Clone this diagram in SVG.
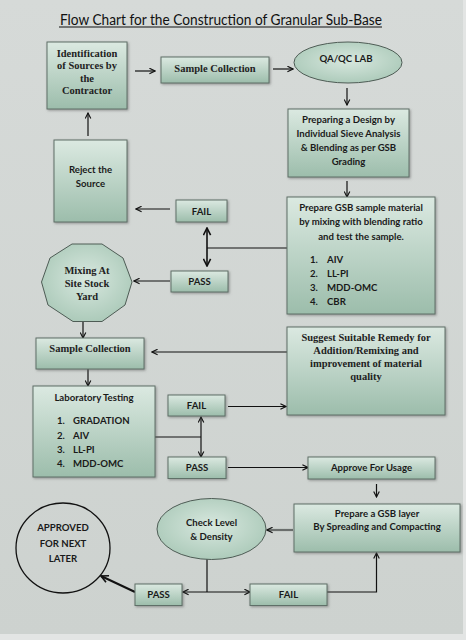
<svg xmlns="http://www.w3.org/2000/svg" width="466" height="640" viewBox="0 0 466 640">
<defs>
<linearGradient id="bg" x1="0" y1="0" x2="0" y2="1">
<stop offset="0" stop-color="#d6dad8"/>
<stop offset="1" stop-color="#cdd2cf"/>
</linearGradient>
<linearGradient id="fillg" x1="0" y1="0" x2="0" y2="1">
<stop offset="0" stop-color="#dbe9e1"/>
<stop offset="1" stop-color="#9cbdab"/>
</linearGradient>
<radialGradient id="fillr" cx="0.5" cy="0.45" r="0.6">
<stop offset="0" stop-color="#d8e8df"/>
<stop offset="1" stop-color="#a9c8b7"/>
</radialGradient>
<filter id="sh" x="-10%" y="-10%" width="130%" height="130%">
<feDropShadow dx="1.2" dy="1.2" stdDeviation="0.8" flood-color="#555" flood-opacity="0.5"/>
</filter>
<marker id="ah" viewBox="0 0 10 10" refX="9" refY="5" markerWidth="7" markerHeight="7" orient="auto-start-reverse" markerUnits="userSpaceOnUse">
<path d="M1,1 L9,5 L1,9" fill="none" stroke="#111" stroke-width="1.6"/>
</marker>
<marker id="ahb" viewBox="0 0 10 10" refX="9" refY="5" markerWidth="9" markerHeight="9" orient="auto-start-reverse" markerUnits="userSpaceOnUse">
<path d="M1,1 L9,5 L1,9" fill="none" stroke="#111" stroke-width="1.8"/>
</marker>
</defs>
<style>
.box{fill:url(#fillg);stroke:#5f6f67;stroke-width:1;filter:url(#sh)}
.ell{fill:url(#fillr);stroke:#4e5c55;stroke-width:1}
.serif{font-family:"Liberation Serif","Times New Roman",serif;font-weight:bold;font-size:10.5px;fill:#222;text-anchor:middle}
.sans{font-family:Lato,"Liberation Sans",sans-serif;font-weight:bold;font-size:9.6px;fill:#1a1a1a;text-anchor:middle}
.lst{font-family:Lato,"Liberation Sans",sans-serif;font-weight:bold;font-size:9.6px;fill:#1a1a1a}
.ln{fill:none;stroke:#111;stroke-width:1.2}
.arr{fill:none;stroke:#111;stroke-width:1.2;marker-end:url(#ah)}
</style>
<rect x="0" y="0" width="466" height="640" fill="#e3e5e4"/>
<rect x="0" y="0" width="463" height="634" fill="url(#bg)"/>

<g id="title">
<text x="221" y="24.5" font-family="Lato,'Liberation Sans',sans-serif" font-size="14.5" fill="#111" text-anchor="middle" textLength="322" lengthAdjust="spacingAndGlyphs">Flow Chart for the Construction of Granular Sub-Base</text>
<line x1="59" y1="27" x2="382" y2="27" stroke="#111" stroke-width="1"/>
</g>

<g id="connectors">
<line class="arr" x1="135" y1="71" x2="155" y2="71"/>
<line class="arr" x1="273" y1="69" x2="293" y2="69"/>
<line class="arr" x1="347" y1="88" x2="347" y2="105"/>
<line class="arr" x1="347" y1="181" x2="347" y2="197"/>
<line class="arr" x1="88" y1="136" x2="88" y2="113"/>
<line class="arr" x1="170" y1="209" x2="136" y2="209"/>
<line class="ln" x1="287" y1="248" x2="207" y2="248"/>
<line x1="207" y1="228" x2="207" y2="266" fill="none" stroke="#111" stroke-width="1.6" marker-start="url(#ahb)" marker-end="url(#ahb)"/>
<line class="arr" x1="170" y1="281" x2="134" y2="281"/>
<line class="arr" x1="83" y1="322" x2="83" y2="338"/>
<line class="arr" x1="88" y1="369" x2="88" y2="386"/>
<line class="arr" x1="287" y1="352" x2="152" y2="352"/>
<line class="arr" x1="228" y1="406.5" x2="286" y2="406.5"/>
<line class="ln" x1="155" y1="437" x2="201" y2="437"/>
<line x1="201" y1="417" x2="201" y2="457" class="ln" marker-start="url(#ah)" marker-end="url(#ah)"/>
<line class="arr" x1="228" y1="467.5" x2="308" y2="467.5"/>
<line class="arr" x1="376.5" y1="484" x2="376.5" y2="497"/>
<line x1="293" y1="530" x2="267" y2="530" fill="none" stroke="#6a6e6c" stroke-width="2.2" marker-end="url(#ah)"/>
<line class="ln" x1="207" y1="559" x2="207" y2="592"/>
<line x1="183" y1="592" x2="250" y2="592" class="ln" marker-start="url(#ah)" marker-end="url(#ah)"/>
<polyline class="arr" points="327,592 376.5,592 376.5,553"/>
<line x1="135" y1="592" x2="101" y2="576" fill="none" stroke="#111" stroke-width="2" marker-end="url(#ahb)"/>
</g>

<g id="n-identify">
<rect class="box" x="47" y="42" width="80" height="67"/>
<text class="serif" x="87" y="56.5">Identification</text>
<text class="serif" x="87" y="69">of Sources by</text>
<text class="serif" x="87" y="81.5">the</text>
<text class="serif" x="87" y="94">Contractor</text>
</g>

<g id="n-sample1">
<rect class="box" x="161" y="57" width="108" height="26"/>
<text class="serif" x="215" y="71.5">Sample Collection</text>
</g>

<g id="n-qaqc">
<ellipse class="ell" cx="348" cy="62.5" rx="54" ry="20.5"/>
<text class="sans" x="346" y="61.5">QA/QC LAB</text>
</g>

<g id="n-design">
<rect class="box" x="288" y="109" width="121" height="68"/>
<text class="sans" x="348.5" y="123">Preparing a Design by</text>
<text class="sans" x="348.5" y="137">Individual Sieve Analysis</text>
<text class="sans" x="348.5" y="151">&amp; Blending as per GSB</text>
<text class="sans" x="348.5" y="165">Grading</text>
</g>

<g id="n-gsb-sample">
<rect class="box" x="287" y="197" width="148" height="117"/>
<text class="sans" x="361" y="211">Prepare GSB sample material</text>
<text class="sans" x="361" y="225">by mixing with blending ratio</text>
<text class="sans" x="361" y="239.5">and test the sample.</text>
<text class="lst" x="310" y="262.5">1.</text><text class="lst" x="327" y="262.5">AIV</text>
<text class="lst" x="310" y="276.5">2.</text><text class="lst" x="327" y="276.5">LL-PI</text>
<text class="lst" x="310" y="291">3.</text><text class="lst" x="327" y="291">MDD-OMC</text>
<text class="lst" x="310" y="305">4.</text><text class="lst" x="327" y="305">CBR</text>
</g>

<g id="n-reject">
<rect class="box" x="54" y="140" width="73" height="82"/>
<text class="sans" x="90.5" y="172.5">Reject the</text>
<text class="sans" x="90.5" y="186.5">Source</text>
</g>

<g id="n-fail1">
<rect class="box" x="176" y="200" width="51" height="22"/>
<text class="sans" x="201.5" y="214.5">FAIL</text>
</g>

<g id="n-pass1">
<rect class="box" x="171" y="271" width="57" height="21"/>
<text class="sans" x="199.5" y="284.5">PASS</text>
</g>

<g id="n-mixing">
<polygon class="ell" points="72,244 102,244 123,258 132,282 125,305 102,321.5 73,321.5 48,305 41.5,282 50,258"/>
<text class="serif" x="87" y="274">Mixing At</text>
<text class="serif" x="87" y="287">Site Stock</text>
<text class="serif" x="87" y="299.5">Yard</text>
</g>

<g id="n-sample2">
<rect class="box" x="36" y="338" width="108" height="31"/>
<text class="serif" x="90" y="352">Sample Collection</text>
</g>

<g id="n-lab">
<rect class="box" x="33" y="386" width="122" height="91"/>
<text class="sans" x="94" y="400.5">Laboratory Testing</text>
<text class="lst" x="57" y="424">1.</text><text class="lst" x="73" y="424">GRADATION</text>
<text class="lst" x="57" y="438.5">2.</text><text class="lst" x="73" y="438.5">AIV</text>
<text class="lst" x="57" y="452.5">3.</text><text class="lst" x="73" y="452.5">LL-PI</text>
<text class="lst" x="57" y="466.5">4.</text><text class="lst" x="73" y="466.5">MDD-OMC</text>
</g>

<g id="n-remedy">
<rect class="box" x="287" y="327" width="158" height="88"/>
<text class="serif" x="366" y="340.5">Suggest Suitable Remedy for</text>
<text class="serif" x="366" y="353.5">Addition/Remixing and</text>
<text class="serif" x="366" y="366.5">improvement of material</text>
<text class="serif" x="366" y="379.5">quality</text>
</g>

<g id="n-fail2">
<rect class="box" x="168" y="395" width="57" height="21"/>
<text class="sans" x="196.5" y="408.5">FAIL</text>
</g>

<g id="n-pass2">
<rect class="box" x="168" y="457" width="58" height="21.5"/>
<text class="sans" x="197" y="470.5">PASS</text>
</g>

<g id="n-approve">
<rect class="box" x="308" y="457" width="127" height="22"/>
<text class="sans" x="371.5" y="470.5">Approve For Usage</text>
</g>

<g id="n-layer">
<rect class="box" x="294" y="504" width="166" height="48"/>
<text class="sans" x="377" y="517">Prepare a GSB layer</text>
<text class="sans" x="377" y="529.5">By Spreading and Compacting</text>
</g>

<g id="n-check">
<ellipse class="ell" cx="211.5" cy="529" rx="54.5" ry="30.5"/>
<text class="sans" x="211.5" y="526">Check Level</text>
<text class="sans" x="211.5" y="539.5">&amp; Density</text>
</g>

<g id="n-pass3">
<rect class="box" x="135" y="584" width="47" height="21.5"/>
<text class="sans" x="158.5" y="597.5">PASS</text>
</g>

<g id="n-fail3">
<rect class="box" x="250" y="584" width="77" height="21.5"/>
<text class="sans" x="288.5" y="597.5">FAIL</text>
</g>

<g id="n-approved">
<ellipse cx="63" cy="548" rx="47" ry="45" fill="none" stroke="#111" stroke-width="1.3"/>
<text class="sans" x="63" y="531">APPROVED</text>
<text class="sans" x="63" y="546.5">FOR NEXT</text>
<text class="sans" x="63" y="562">LATER</text>
</g>
</svg>
